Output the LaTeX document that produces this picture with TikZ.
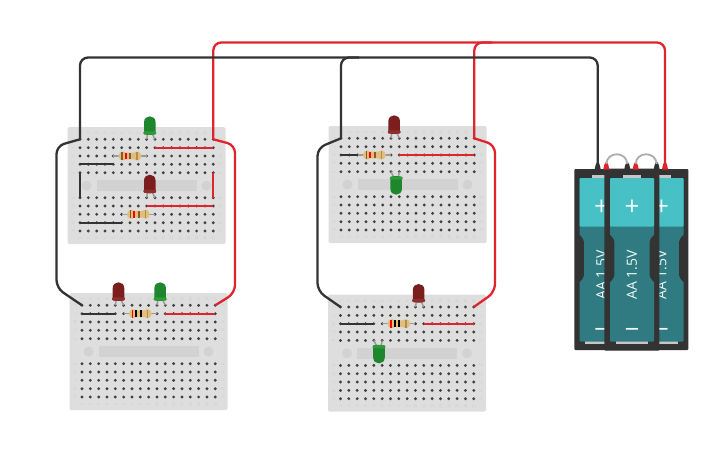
\documentclass[tikz,border=0pt]{standalone}
\usepackage{fontspec}
\setmainfont{Open Sans}
\usetikzlibrary{calc}

\definecolor{wirered}{HTML}{E0242C}
\definecolor{wireblack}{HTML}{333333}
\definecolor{boardgray}{HTML}{DEDEDE}
\definecolor{stripgray}{HTML}{D2D2D2}
\definecolor{labelgray}{HTML}{CFCFCF}
\definecolor{ledgreen}{HTML}{1E862C}
\definecolor{ledgreenrim}{HTML}{2F9A3C}
\definecolor{ledred}{HTML}{7C1E1E}
\definecolor{ledredrim}{HTML}{8E2E2E}
\definecolor{restan}{HTML}{E2BE7C}
\definecolor{resbrown}{HTML}{8A5A2B}
\definecolor{resgold}{HTML}{B08D4F}
\definecolor{celllight}{HTML}{48C1C6}
\definecolor{celldark}{HTML}{2F7B81}

% name, left, top
\newcommand{\breadboard}[3]{
  \fill[boardgray,rounded corners=1.5] (#2,#3) rectangle ++(158,117);
  \fill[stripgray] ({#2+29},{#3+53.2}) rectangle ++(100,10.8);
  \fill[stripgray] ({#2+19},{#3+58.6}) circle (5);
  \fill[stripgray] ({#2+139},{#3+58.6}) circle (5);
  \foreach \r/\ry/\rl in {1/12.3/J,2/20.7/I,3/29/H,4/37.3/G,5/45.7/F,6/70.7/E,7/79/D,8/87.3/C,9/95.7/B,10/104/A}{
    \node[boardtext] (#1-left-\r) at ({#2+5.8},{#3+\ry}) {\rl};
    \node[boardtext] (#1-right-\r) at ({#2+153},{#3+\ry}) {\rl};
    \foreach \c in {1,...,17}{
      \coordinate (#1-\c-\r) at ({#2+12.5+8.33*(\c-1)},{#3+\ry});
      \fill[hole] (#1-\c-\r) circle (1.6);
    }
  }
  \foreach \c in {1,...,17}{
    \node[boardtext] (#1-top-\c) at ({#2+12.5+8.33*(\c-1)},{#3+6.5}) {\c};
    \node[boardtext] (#1-bot-\c) at ({#2+12.5+8.33*(\c-1)},{#3+111.5}) {\c};
  }
}

% first hole, last hole, four bands
\newcommand{\resistor}[6]{
  \draw[lead] (#1) -- (#2);
  \begin{scope}[shift={($(#1)!0.5!(#2)$)}]
    \fill[restan] (-11.5,0) .. controls (-10.5,-5.5) and (-6,-5) .. (-4,-3.3) -- (4,-3.3)
      .. controls (6,-5) and (10.5,-5.5) .. (11.5,0) .. controls (10.5,5.5) and (6,5) .. (4,3.3)
      -- (-4,3.3) .. controls (-6,5) and (-10.5,5.5) .. (-11.5,0) -- cycle;
    \fill[#3] (-8.8,-4.1) rectangle (-7,4.1);
    \fill[#4] (-5,-3.3) rectangle (-3.1,3.3);
    \fill[#5] (-0.5,-3.3) rectangle (1.5,3.3);
    \fill[#6] (6.2,-4.1) rectangle (8,4.1);
  \end{scope}
}

% hole, hole, angle, body, rim
\newcommand{\ledlamp}[5]{
  \begin{scope}[shift={($(#1)!0.5!(#2)$)},rotate=#3]
    \coordinate (legl) at (-3.2,-6);
    \coordinate (legr) at (1.2,-6);
  \end{scope}
  \draw[lead,line width=1.4] (#1) -- (legl);
  \draw[lead,line width=1.4] (#2) -- (legr);
  \begin{scope}[shift={($(#1)!0.5!(#2)$)},rotate=#3]
    \fill[#4] (-6.8,-5.5) -- (-6.8,-17) .. controls (-6.8,-25) and (4.8,-25) .. (4.8,-17) -- (4.8,-5.5)
      .. controls (4.8,-4) and (-6.8,-4) .. (-6.8,-5.5) -- cycle;
    \fill[#5,rounded corners=1] (-7.4,-8) rectangle (5.4,-4.8);
  \end{scope}
}

% name, centre x
\newcommand{\aacell}[2]{
  \fill[tab] ({#2-9.3},174.5) rectangle ({#2+9.3},179);
  \fill[tab] ({#2-16.3},340) rectangle ({#2+16.3},344);
  \fill[cellbody,celldark] ({#2-22},178) rectangle ({#2+22},341.7);
  \fill[cellbody,celllight] ({#2-22},178) -- ({#2-22},226.7) -- ({#2+22},226.7) -- ({#2+22},178) -- cycle;
  \fill[wireblack,rounded corners=1.5] ({#2-22.5},234) -- ({#2-17.7},240) -- ({#2-17.7},277) -- ({#2-22.5},283) -- cycle;
  \fill[wireblack,rounded corners=1.5] ({#2+22.5},234) -- ({#2+17.7},240) -- ({#2+17.7},277) -- ({#2+22.5},283) -- cycle;
  \node[celltext] (#1-plus) at (#2,207.5) {\fontsize{26}{26}\selectfont +};
  \node[celltext,rotate=90] (#1-text) at (#2,275) {\fontsize{14}{16}\selectfont AA 1.5V};
  \node[celltext] (#1-minus) at (#2,333.5) {\fontsize{26}{26}\selectfont −};
}

\begin{document}
\begin{tikzpicture}[
    x=1pt,y=-1pt,
    hole/.style={black!75},
    boardtext/.style={text=labelgray,inner sep=0pt,font=\fontsize{4.5}{5}\selectfont\sffamily,rotate=90},
    lead/.style={gray!80,line width=1.2},
    wirer/.style={wirered,line width=2.3,rounded corners=8},
    wireb/.style={wireblack,line width=2.3,rounded corners=8},
    shortr/.style={wirered,line width=2.2},
    shortb/.style={wireblack,line width=2.2},
    tab/.style={gray!45},
    cellbody/.style={rounded corners=1},
    celltext/.style={text=white!92!celllight,inner sep=0pt}
]
\useasboundingbox (0,0) rectangle (725,453);

% Four breadboards
\breadboard{bba}{67.5}{127}
\breadboard{bbb}{69.5}{293}
\breadboard{bbc}{328.5}{126}
\breadboard{bbd}{328}{294.7}

% Jumpers on the boards
\draw[shortr] (bba-10-2) -- (bba-17-2);
\draw[shortb] (bba-1-4) -- (bba-5-4);
\draw[shortb] (bba-1-5) -- (bba-1-6);
\draw[shortr] (bba-17-5) -- (bba-17-6);
\draw[shortr] (bba-9-7) -- (bba-17-7);
\draw[shortb] (bba-1-9) -- (bba-6-9);
\draw[shortb] (bbb-1-2) -- (bbb-5-2);
\draw[shortr] (bbb-11-2) -- (bbb-17-2);
\draw[shortb] (bbc-1-3) -- (bbc-3-3);
\draw[shortr] (bbc-8-3) -- (bbc-17-3);
\draw[shortb] (bbd-1-3) -- (bbd-5-3);
\draw[shortr] (bbd-11-3) -- (bbd-17-3);

% Resistors
\resistor{bba-5-3}{bba-9-3}{resbrown}{red}{resbrown}{resgold}
\resistor{bba-6-8}{bba-10-8}{resbrown}{red}{resbrown}{resgold}
\resistor{bbb-6-2}{bbb-10-2}{red}{black}{black}{resgold}
\resistor{bbc-3-3}{bbc-7-3}{resbrown}{red}{resbrown}{resgold}
\resistor{bbd-6-3}{bbd-10-3}{red}{black}{black}{resgold}

% LEDs
\ledlamp{bba-9-1}{bba-10-1}{0}{ledgreen}{ledgreenrim}
\ledlamp{bba-9-6}{bba-10-6}{0}{ledred}{ledredrim}
\ledlamp{bbb-5-1}{bbb-6-1}{0}{ledred}{ledredrim}
\ledlamp{bbb-10-1}{bbb-11-1}{0}{ledgreen}{ledgreenrim}
\ledlamp{bbc-7-1}{bbc-8-1}{0}{ledred}{ledredrim}
\ledlamp{bbc-8-5}{bbc-7-5}{180}{ledgreen}{ledgreenrim}
\ledlamp{bbd-10-1}{bbd-11-1}{0}{ledred}{ledredrim}
\ledlamp{bbd-6-5}{bbd-5-5}{180}{ledgreen}{ledgreenrim}

% Battery pack
\fill[wireblack,rounded corners=1] (574.3,169) rectangle (688.3,350);
\aacell{cella}{601.5}
\aacell{cellc}{661.5}
\fill[wireblack,rounded corners=1] (604.3,168.5) rectangle (659.3,350.7);
\aacell{cellb}{632}

% Terminals
\foreach \tname/\tx/\tcol in {nega/597.7/wireblack,posa/606.3/wirered,negb/627.3/wireblack,posb/635.7/wirered,negc/656.7/wireblack,posc/665/wirered}{
  \coordinate (\tname) at (\tx,164);
  \fill[\tcol] (\tx-3,169.5) .. controls (\tx-2.5,166) and (\tx-1.5,162) .. (\tx,162) .. controls (\tx+1.5,162) and (\tx+2.5,166) .. (\tx+3,169.5) -- cycle;
}
\draw[gray!65,line width=1.8] (posa) .. controls (607,151) and (626.5,151) .. (negb);
\draw[gray!65,line width=1.8] (posb) .. controls (636,151) and (656,151) .. (negc);

% Supply wires, red below black
\coordinate (redtop) at (0,42.5);
\coordinate (blacktop) at (0,57.5);
\coordinate (redjoin) at (492,42.5);
\coordinate (blackjoin) at (359,57.5);
\draw[wirer] (bba-17-1) -- (bba-17-1 |- redtop) -- (posc |- redtop) -- (posc);
\draw[wirer] (bbc-17-1) -- (bbc-17-1 |- redtop) -- (redjoin);
\draw[wirer] (bba-17-1) -- (235,145) -- (235,293) -- (bbb-17-1);
\draw[wirer] (bbc-17-1) -- (495,145) -- (495,292) -- (bbd-17-1);
\draw[wireb] (bba-1-1) -- (bba-1-1 |- blacktop) -- (nega |- blacktop) -- (nega);
\draw[wireb] (bbc-1-1) -- (bbc-1-1 |- blacktop) -- (blackjoin);
\draw[wireb] (bba-1-1) -- (56.5,146) -- (56.5,288) -- (bbb-1-1);
\draw[wireb] (bbc-1-1) -- (317.5,148) -- (317.5,291) -- (bbd-1-1);

\end{tikzpicture}
\end{document}
